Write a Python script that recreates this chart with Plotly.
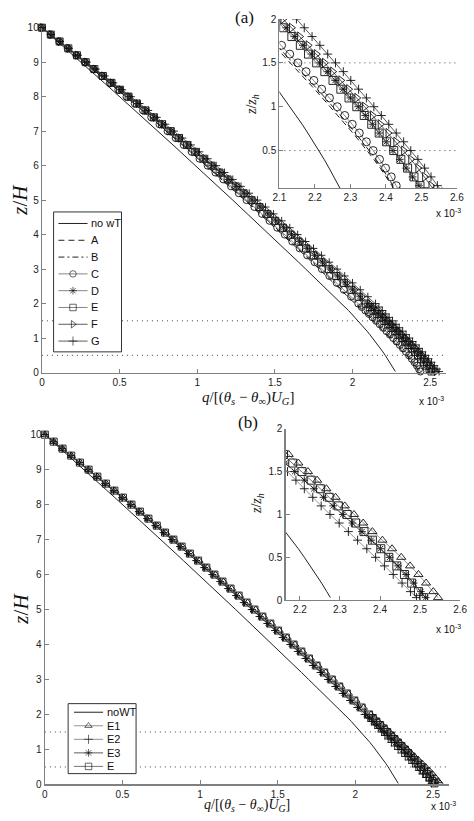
import plotly.graph_objects as go

W, H = 474, 821

# ---------------- data (q in units of 1e-3, z in units of H) ----------------
Z = [10, 9.8, 9.6, 9.4, 9.2, 9.0, 8.8, 8.6, 8.4, 8.2, 8.0, 7.8, 7.6, 7.4, 7.2, 7.0,
     6.8, 6.6, 6.4, 6.2, 6.0, 5.8, 5.6, 5.4, 5.2, 5.0, 4.8, 4.6, 4.4, 4.2, 4.0, 3.8,
     3.6, 3.4, 3.2, 3.0, 2.8, 2.6, 2.4, 2.2,
     2.0, 1.9, 1.8, 1.7, 1.6, 1.5, 1.4, 1.3, 1.2, 1.1, 1.0, 0.9, 0.8, 0.7, 0.6, 0.5,
     0.4, 0.3, 0.2, 0.1, 0.03]

Q_NOWT = [0.000, 0.051, 0.101, 0.151, 0.202, 0.252, 0.302, 0.352, 0.401, 0.451, 0.501, 0.550,
          0.599, 0.648, 0.697, 0.746, 0.795, 0.844, 0.892, 0.941, 0.989, 1.037, 1.085, 1.133,
          1.181, 1.229, 1.276, 1.324, 1.371, 1.418, 1.466, 1.512, 1.559, 1.606, 1.653, 1.699,
          1.746, 1.792, 1.838, 1.884,
          1.930, 1.952, 1.974, 1.995, 2.016, 2.036, 2.056, 2.075, 2.094, 2.112, 2.130, 2.147,
          2.164, 2.180, 2.196, 2.211, 2.226, 2.240, 2.254, 2.267, 2.276]
Q_A = [0.000, 0.055, 0.110, 0.165, 0.219, 0.273, 0.327, 0.381, 0.434, 0.487, 0.540, 0.593,
       0.645, 0.698, 0.750, 0.801, 0.853, 0.904, 0.955, 1.006, 1.057, 1.107, 1.157, 1.207,
       1.256, 1.306, 1.355, 1.404, 1.452, 1.501, 1.549, 1.597, 1.644, 1.692, 1.739, 1.786,
       1.833, 1.879, 1.925, 1.971,
       2.017, 2.040, 2.063, 2.086, 2.109, 2.132, 2.155, 2.177, 2.199, 2.221, 2.243, 2.265,
       2.286, 2.307, 2.327, 2.347, 2.366, 2.384, 2.401, 2.417, 2.426]
Q_B = [0.000, 0.055, 0.110, 0.165, 0.220, 0.274, 0.328, 0.382, 0.436, 0.489, 0.542, 0.595,
       0.648, 0.700, 0.752, 0.804, 0.856, 0.908, 0.959, 1.010, 1.061, 1.111, 1.161, 1.211,
       1.261, 1.311, 1.360, 1.409, 1.458, 1.506, 1.555, 1.603, 1.651, 1.698, 1.746, 1.793,
       1.840, 1.886, 1.933, 1.979,
       2.025, 2.048, 2.071, 2.094, 2.117, 2.140, 2.163, 2.185, 2.207, 2.229, 2.251, 2.273,
       2.294, 2.314, 2.334, 2.353, 2.372, 2.389, 2.405, 2.420, 2.429]
Q_C = [0.000, 0.056, 0.111, 0.166, 0.221, 0.276, 0.330, 0.384, 0.438, 0.492, 0.545, 0.598,
       0.651, 0.704, 0.757, 0.809, 0.861, 0.913, 0.964, 1.015, 1.067, 1.117, 1.168, 1.218,
       1.268, 1.318, 1.368, 1.417, 1.466, 1.515, 1.564, 1.612, 1.660, 1.708, 1.756, 1.803,
       1.851, 1.898, 1.944, 1.991,
       2.037, 2.060, 2.083, 2.106, 2.129, 2.152, 2.175, 2.197, 2.219, 2.241, 2.263, 2.284,
       2.305, 2.325, 2.345, 2.364, 2.382, 2.399, 2.415, 2.429, 2.438]
Q_D = [0.000, 0.057, 0.114, 0.170, 0.227, 0.283, 0.339, 0.394, 0.450, 0.505, 0.560, 0.614,
       0.669, 0.723, 0.777, 0.831, 0.884, 0.937, 0.990, 1.043, 1.096, 1.148, 1.200, 1.252,
       1.303, 1.354, 1.405, 1.456, 1.507, 1.557, 1.607, 1.657, 1.707, 1.756, 1.805, 1.854,
       1.903, 1.951, 1.999, 2.047,
       2.095, 2.119, 2.142, 2.166, 2.190, 2.213, 2.235, 2.257, 2.279, 2.300, 2.322, 2.342,
       2.362, 2.381, 2.401, 2.420, 2.439, 2.457, 2.475, 2.493, 2.506]
Q_E = [0.000, 0.057, 0.114, 0.170, 0.226, 0.282, 0.338, 0.393, 0.448, 0.503, 0.558, 0.612,
       0.667, 0.721, 0.774, 0.828, 0.881, 0.934, 0.987, 1.040, 1.092, 1.144, 1.196, 1.248,
       1.299, 1.350, 1.401, 1.452, 1.502, 1.552, 1.602, 1.652, 1.701, 1.750, 1.799, 1.848,
       1.896, 1.945, 1.993, 2.040,
       2.088, 2.112, 2.135, 2.159, 2.182, 2.205, 2.228, 2.251, 2.273, 2.296, 2.318, 2.339,
       2.360, 2.381, 2.402, 2.422, 2.442, 2.461, 2.479, 2.496, 2.509]
Q_F = [0.000, 0.057, 0.115, 0.172, 0.228, 0.285, 0.341, 0.397, 0.453, 0.508, 0.564, 0.619,
       0.673, 0.728, 0.782, 0.836, 0.890, 0.944, 0.997, 1.050, 1.103, 1.156, 1.208, 1.260,
       1.312, 1.364, 1.415, 1.466, 1.517, 1.568, 1.619, 1.669, 1.719, 1.768, 1.818, 1.867,
       1.916, 1.965, 2.014, 2.062,
       2.110, 2.134, 2.157, 2.181, 2.204, 2.227, 2.250, 2.273, 2.295, 2.318, 2.340, 2.362,
       2.384, 2.406, 2.428, 2.450, 2.470, 2.490, 2.509, 2.527, 2.539]
Q_G = [0.000, 0.058, 0.117, 0.174, 0.232, 0.289, 0.347, 0.404, 0.460, 0.517, 0.573, 0.629,
       0.685, 0.740, 0.795, 0.851, 0.905, 0.960, 1.014, 1.068, 1.122, 1.176, 1.229, 1.282,
       1.335, 1.388, 1.440, 1.492, 1.544, 1.596, 1.647, 1.698, 1.749, 1.800, 1.850, 1.901,
       1.950, 2.000, 2.050, 2.099,
       2.148, 2.170, 2.192, 2.214, 2.236, 2.258, 2.280, 2.301, 2.323, 2.345, 2.366, 2.387,
       2.408, 2.429, 2.450, 2.470, 2.490, 2.509, 2.527, 2.545, 2.558]
Q_E1 = [0.000, 0.057, 0.114, 0.171, 0.227, 0.283, 0.339, 0.395, 0.451, 0.506, 0.561, 0.616,
        0.670, 0.725, 0.779, 0.833, 0.886, 0.939, 0.993, 1.045, 1.098, 1.150, 1.203, 1.254,
        1.306, 1.358, 1.409, 1.460, 1.510, 1.561, 1.611, 1.661, 1.711, 1.760, 1.809, 1.859,
        1.907, 1.956, 2.004, 2.052,
        2.100, 2.124, 2.148, 2.172, 2.196, 2.220, 2.243, 2.266, 2.289, 2.312, 2.335, 2.358,
        2.381, 2.406, 2.430, 2.453, 2.475, 2.496, 2.515, 2.533, 2.545]
Q_E2 = [0.000, 0.056, 0.112, 0.168, 0.223, 0.278, 0.333, 0.388, 0.443, 0.497, 0.551, 0.605,
        0.658, 0.711, 0.764, 0.817, 0.870, 0.922, 0.974, 1.026, 1.078, 1.129, 1.180, 1.231,
        1.281, 1.332, 1.382, 1.432, 1.482, 1.531, 1.580, 1.629, 1.678, 1.726, 1.775, 1.823,
        1.870, 1.918, 1.965, 2.012,
        2.059, 2.081, 2.103, 2.125, 2.147, 2.169, 2.190, 2.211, 2.232, 2.253, 2.275, 2.298,
        2.321, 2.344, 2.367, 2.389, 2.411, 2.433, 2.455, 2.476, 2.491]
Q_E3 = [0.000, 0.056, 0.112, 0.168, 0.224, 0.279, 0.335, 0.389, 0.444, 0.499, 0.553, 0.607,
        0.660, 0.714, 0.767, 0.820, 0.873, 0.925, 0.978, 1.030, 1.082, 1.133, 1.184, 1.235,
        1.286, 1.337, 1.387, 1.437, 1.487, 1.537, 1.586, 1.635, 1.684, 1.733, 1.781, 1.830,
        1.878, 1.925, 1.972, 2.020,
        2.067, 2.091, 2.115, 2.139, 2.163, 2.187, 2.211, 2.235, 2.259, 2.283, 2.307, 2.331,
        2.355, 2.378, 2.401, 2.424, 2.445, 2.465, 2.484, 2.502, 2.514]

REF_Z = [0.5, 1.5]

MAIN_XTICKS = [0, 0.5, 1, 1.5, 2, 2.5]
MAIN_XTICKTEXT = ["0", "0.5", "1", "1.5", "2", "2.5"]
MAIN_YTICKS = list(range(0, 11))
INSET_A_XTICKS = [2.1, 2.2, 2.3, 2.4, 2.5, 2.6]
INSET_A_YTICKS = [0.5, 1, 1.5, 2]
INSET_B_XTICKS = [2.2, 2.3, 2.4, 2.5, 2.6]
INSET_B_YTICKS = [0, 0.5, 1, 1.5, 2]

# (name, values, marker symbol, dash, line colour)
SERIES_A = [
    ("no wT", Q_NOWT, None, "solid", "#222"),
    ("A", Q_A, None, "6px,4px", "#222"),
    ("B", Q_B, None, "6px,3px,2px,3px", "#222"),
    ("C", Q_C, "circle-open", "solid", "#666"),
    ("D", Q_D, "asterisk-open", "solid", "#666"),
    ("E", Q_E, "square-open", "solid", "#666"),
    ("F", Q_F, "triangle-right-open", "solid", "#333"),
    ("G", Q_G, "cross-thin-open", "solid", "#333"),
]
SERIES_B = [
    ("noWT", Q_NOWT, None, "solid", "#222"),
    ("E1", Q_E1, "triangle-up-open", "solid", "#777"),
    ("E2", Q_E2, "cross-thin-open", "solid", "#777"),
    ("E3", Q_E3, "asterisk-open", "solid", "#333"),
    ("E", Q_E, "square-open", "solid", "#555"),
]
SMALL_SYMBOLS = {"cross-thin-open", "asterisk-open"}

SANS = "Liberation Sans, Arial, sans-serif"
SERIF = "Liberation Serif, Times New Roman, serif"
TICKFONT = dict(family=SANS, size=10, color="#222")
AXCOL = "#808080"

fig = go.Figure()


def add_series(series, xa, ya, msize, clip):
    for name, q, sym, dash, lcol in series:
        if sym is None:
            fig.add_trace(go.Scatter(x=q, y=Z, mode="lines", xaxis=xa, yaxis=ya,
                                     line=dict(color=lcol, width=1, dash=dash),
                                     cliponaxis=clip, showlegend=False, name=name))
        else:
            size = msize * (0.8 if sym in SMALL_SYMBOLS else 1.0)
            fig.add_trace(go.Scatter(x=q, y=Z, mode="lines+markers", xaxis=xa, yaxis=ya,
                                     line=dict(color=lcol, width=0.8, dash=dash),
                                     marker=dict(symbol=sym, size=size, color="#111",
                                                 line=dict(color="#111", width=0.9)),
                                     cliponaxis=clip, showlegend=False, name=name))


def add_ref_lines(xa, ya, x0, x1):
    for zr in REF_Z:
        fig.add_trace(go.Scatter(x=[x0, x1], y=[zr, zr], mode="lines", xaxis=xa, yaxis=ya,
                                 line=dict(color="#444", width=1, dash="1px,4px"),
                                 showlegend=False, hoverinfo="skip"))


# panel (a)
add_ref_lines("x", "y", 0, 2.6)
add_series(SERIES_A, "x", "y", 7, False)
add_ref_lines("x2", "y2", 2.1, 2.6)
add_series(SERIES_A, "x2", "y2", 8, True)
# panel (b)
add_ref_lines("x3", "y3", 0, 2.6)
add_series(SERIES_B, "x3", "y3", 7, False)
add_series(SERIES_B, "x4", "y4", 8, True)


# ---------------- legends (drawn in a pixel-coordinate overlay axis) -------------
def add_legend(series, box, y0, dy, lx0, lx1, tx):
    bx0, by0, bx1, by1 = box
    fig.add_trace(go.Scatter(x=[bx0, bx1, bx1, bx0, bx0], y=[by0, by0, by1, by1, by0],
                             mode="lines", fill="toself", fillcolor="white",
                             line=dict(color="#333", width=1), xaxis="x5", yaxis="y5",
                             showlegend=False, hoverinfo="skip"))
    for i, (name, q, sym, dash, lcol) in enumerate(series):
        yy = y0 + dy * i
        xm = (lx0 + lx1) / 2
        if sym is None:
            fig.add_trace(go.Scatter(x=[lx0, lx1], y=[yy, yy], mode="lines",
                                     line=dict(color=lcol, width=1, dash=dash),
                                     xaxis="x5", yaxis="y5", showlegend=False, hoverinfo="skip"))
        else:
            fig.add_trace(go.Scatter(x=[lx0, xm, lx1], y=[yy, yy, yy], mode="lines+markers",
                                     line=dict(color=lcol, width=0.8),
                                     marker=dict(symbol=sym, size=[0, 6.5, 0], color="#111",
                                                 line=dict(color="#111", width=0.9)),
                                     xaxis="x5", yaxis="y5", showlegend=False, hoverinfo="skip"))
        fig.add_annotation(x=tx, y=yy, xref="x5", yref="y5", text=name, showarrow=False,
                           xanchor="left", yanchor="middle",
                           font=dict(family=SANS, size=11, color="#111"))


add_legend(SERIES_A, (48, 209, 118, 351), 220.7, 17.05, 53, 83, 85)
add_legend(SERIES_B, (63, 708, 133, 779), 716.7, 13.75, 69, 99, 101)


def axis_style(**kw):
    d = dict(showline=True, linecolor=AXCOL, linewidth=1.2, ticks="inside", ticklen=4,
             tickcolor=AXCOL, tickwidth=1, showgrid=False, zeroline=False, mirror=False,
             tickfont=TICKFONT, fixedrange=True, ticklabeloverflow="allow")
    d.update(kw)
    return d


fig.update_layout(
    width=W, height=H, autosize=False,
    margin=dict(l=0, r=0, t=0, b=0),
    paper_bgcolor="white", plot_bgcolor="rgba(0,0,0,0)",
    showlegend=False,
    xaxis=axis_style(domain=[36 / W, 452 / W], range=[0, 2.6], anchor="y",
                     tickvals=MAIN_XTICKS, ticktext=MAIN_XTICKTEXT),
    yaxis=axis_style(domain=[1 - 372 / H, 1 - 22 / H], range=[0, 10], anchor="x",
                     tickvals=MAIN_YTICKS),
    xaxis2=axis_style(domain=[280.7 / W, 463.8 / W], range=[2.1, 2.6005], anchor="y2",
                      tickvals=INSET_A_XTICKS, ticktext=[f"{v:.1f}" for v in INSET_A_XTICKS]),
    yaxis2=axis_style(domain=[1 - 185 / H, 1 - 13.2 / H], range=[0.07, 2], anchor="x2",
                      tickvals=INSET_A_YTICKS, ticktext=["0.5", "1", "1.5", "2"]),
    xaxis3=axis_style(domain=[39 / W, 455 / W], range=[0, 2.6], anchor="y3",
                      tickvals=MAIN_XTICKS, ticktext=MAIN_XTICKTEXT),
    yaxis3=axis_style(domain=[1 - 790 / H, 1 - 435 / H], range=[0, 10], anchor="x3",
                      tickvals=MAIN_YTICKS),
    xaxis4=axis_style(domain=[287 / W, 467.1 / W], range=[2.164, 2.6005], anchor="y4",
                      tickvals=INSET_B_XTICKS, ticktext=[f"{v:.1f}" for v in INSET_B_XTICKS]),
    yaxis4=axis_style(domain=[1 - 603 / H, 1 - 429 / H], range=[0, 2], anchor="x4",
                      tickvals=INSET_B_YTICKS, ticktext=["0", "0.5", "1", "1.5", "2"]),
    xaxis5=dict(domain=[0, 1], range=[0, W], visible=False, anchor="y5", fixedrange=True),
    yaxis5=dict(domain=[0, 1], range=[H, 0], visible=False, anchor="x5", fixedrange=True),
)


def label(x, y, text, size, family=SERIF, angle=0, xanchor="center"):
    fig.add_annotation(x=x, y=y, xref="x5", yref="y5", text=text, showarrow=False,
                       textangle=angle, xanchor=xanchor, yanchor="middle",
                       font=dict(family=family, size=size, color="#111"))


XTITLE = "<i>q</i>/[(<i>θ</i><sub><i>s</i></sub> − <i>θ</i><sub>∞</sub>)<i>U</i><sub><i>G</i></sub>]"

label(245, 12, "(a)", 17)
label(248, 423, "(b)", 17)
label(14, 197, "<i>z</i>/<i>H</i>", 21, angle=-90)
label(14, 612, "<i>z</i>/<i>H</i>", 21, angle=-90)
label(248, 398, XTITLE, 15)
label(247, 811, XTITLE, 14)
label(437, 401, "x 10<sup>-3</sup>", 10, family=SANS)
label(450, 812, "x 10<sup>-3</sup>", 10, family=SANS)
label(455, 210, "x 10<sup>-3</sup>", 10, family=SANS)
label(455, 632, "x 10<sup>-3</sup>", 10, family=SANS)
label(253, 100, "<i>z</i>/<i>z</i><sub><i>h</i></sub>", 14, angle=-90)
label(258, 505, "<i>z</i>/<i>z</i><sub><i>h</i></sub>", 14, angle=-90)

fig.write_html("out.html",
               config={"displayModeBar": False, "staticPlot": True},
               post_script="document.body.style.margin='0px';"
                           "document.body.style.overflow='hidden';")
